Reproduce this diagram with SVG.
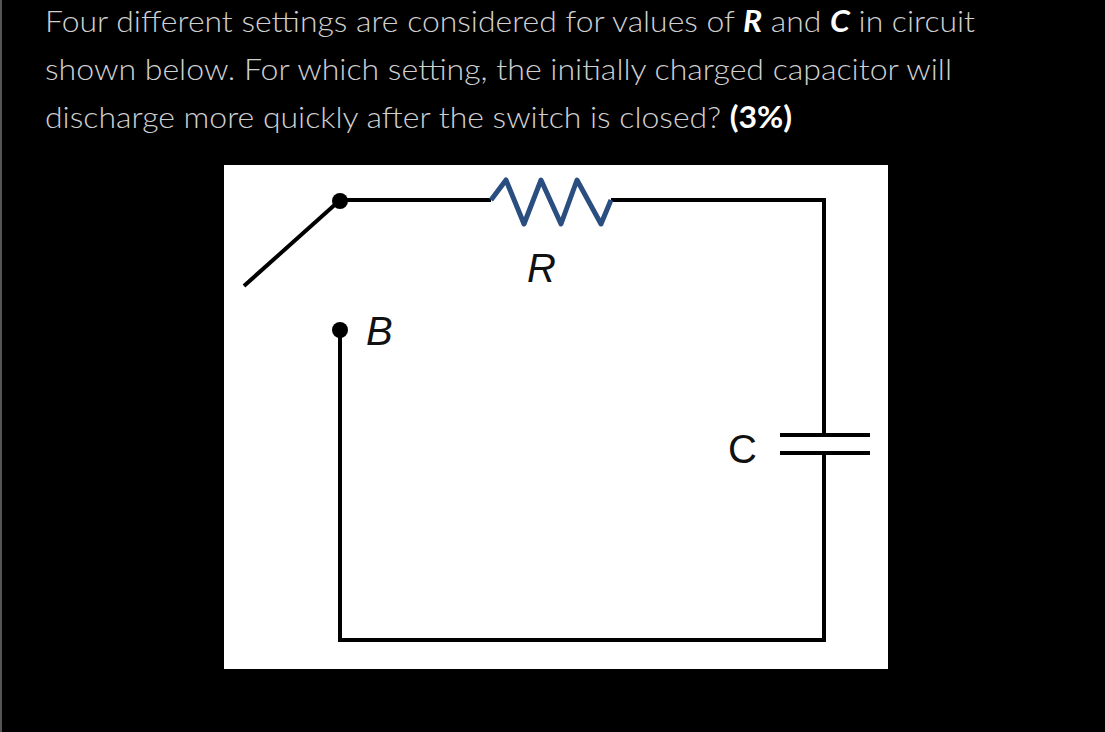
<svg xmlns="http://www.w3.org/2000/svg" width="1105" height="732" viewBox="0 0 1105 732">
<style>
.q{font-family:Lato,"Liberation Sans",sans-serif;font-size:30px;font-weight:300;fill:#d0d0d0}
.w{fill:none;stroke:#000;stroke-width:4}
.lb{font-family:"Liberation Sans",Arial,sans-serif;font-size:40px;fill:#111}
</style>
<rect width="1105" height="732" fill="#000"/>
<rect x="0" y="0" width="2" height="732" fill="#555"/>
<text class="q" x="45" y="32" textLength="930" lengthAdjust="spacingAndGlyphs">Four different settings are considered for values of <tspan font-weight="bold" font-style="italic" fill="#fff">R</tspan> and <tspan font-weight="bold" font-style="italic" fill="#fff">C</tspan> in circuit</text>
<text class="q" x="45" y="80" textLength="907" lengthAdjust="spacingAndGlyphs">shown below. For which setting, the initially charged capacitor will</text>
<text class="q" x="45" y="128" textLength="747" lengthAdjust="spacingAndGlyphs">discharge more quickly after the switch is closed? <tspan font-weight="bold" fill="#fff">(3%)</tspan></text>
<rect x="224" y="165" width="664" height="504" fill="#fff"/>
<g id="wires">
<path class="w" d="M339 201 L244 286"/>
<path class="w" d="M339 200 H491 M611 200 H824 V433 M824 453 V640 H340 V330"/>
<path class="w" d="M780 435 H870 M780 453 H870"/>
</g>
<g id="resistor"><path d="M491 200 L506 180 L524 224 L541 180 L561 224 L577 180 L601 224 L611 200" fill="none" stroke="#2b4e80" stroke-width="5" stroke-linejoin="round"/></g>
<circle cx="340" cy="201" r="8" fill="#000"/>
<circle cx="340" cy="330" r="8" fill="#000"/>
<text class="lb" x="527" y="282" font-style="italic">R</text>
<text class="lb" x="366" y="345" font-style="italic">B</text>
<text class="lb" x="728" y="463">C</text>
</svg>
